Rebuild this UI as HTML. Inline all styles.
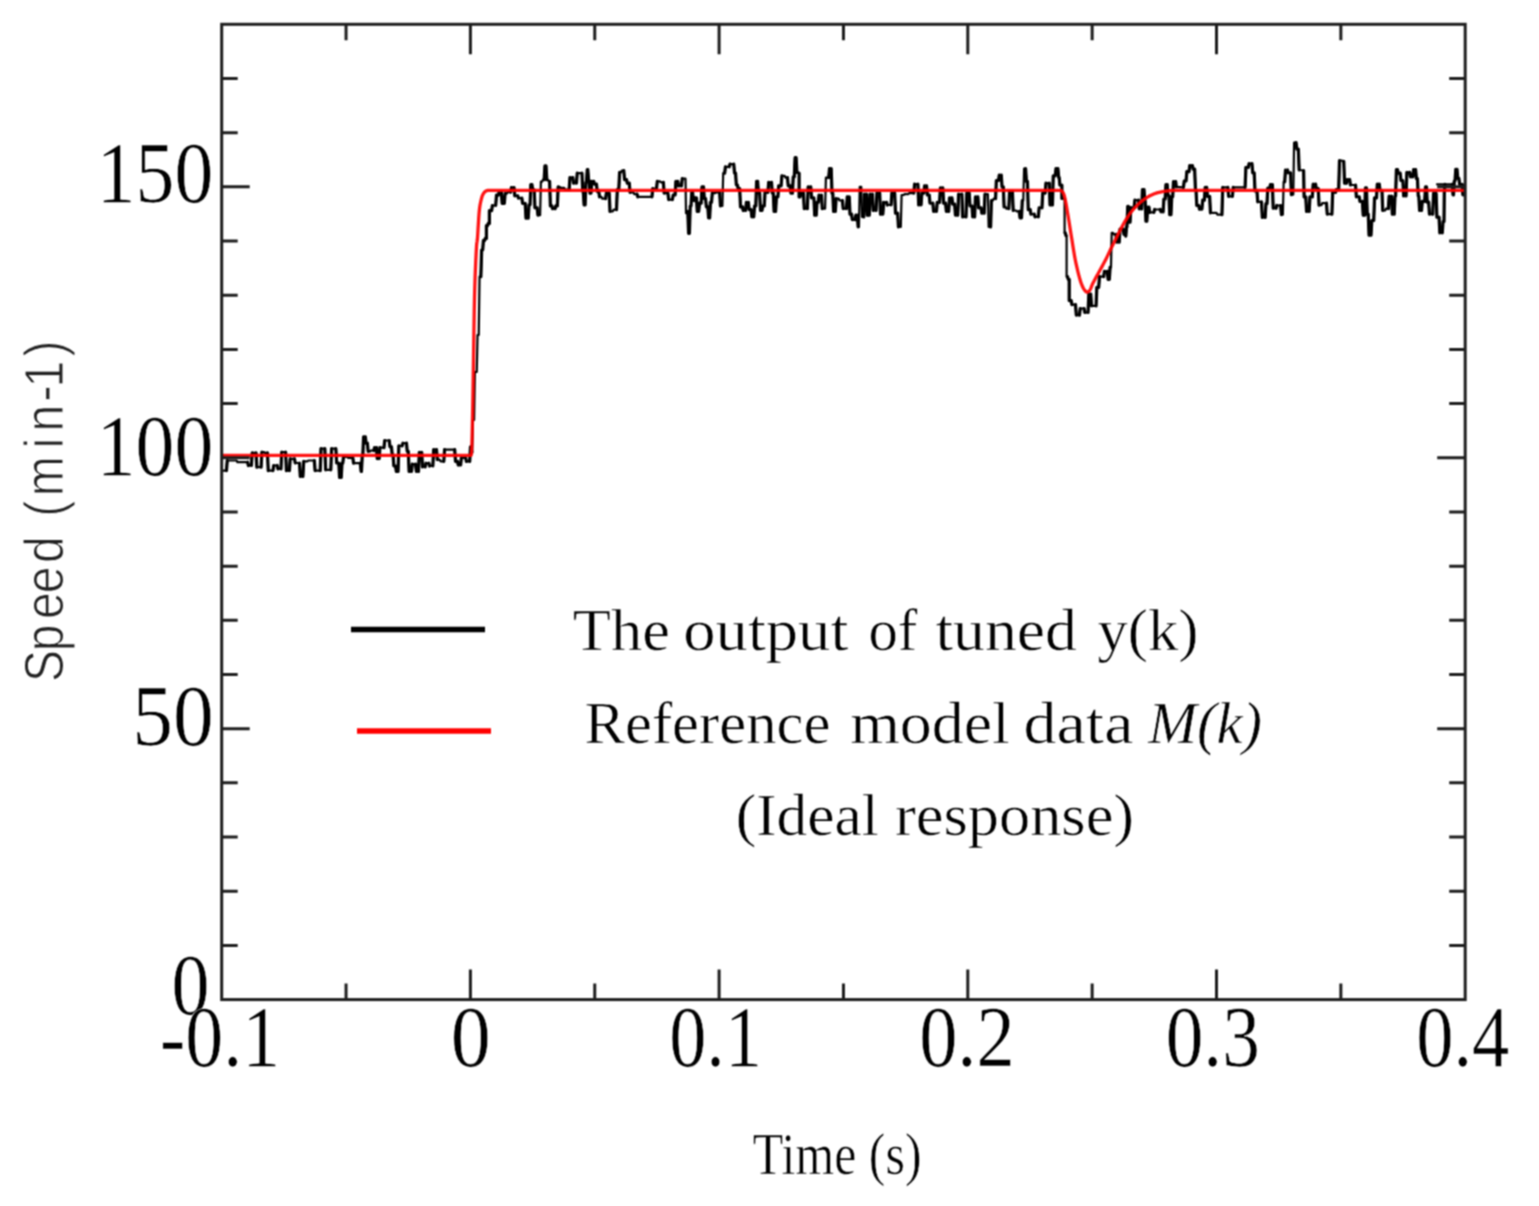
<!DOCTYPE html>
<html><head><meta charset="utf-8"><title>Speed response</title>
<style>html,body{margin:0;padding:0;background:#fff;overflow:hidden;}svg{display:block;}</style></head>
<body>
<svg width="1539" height="1206" viewBox="0 0 1539 1206">
<defs><filter id="b" x="0" y="0" width="1" height="1" color-interpolation-filters="sRGB"><feConvolveMatrix order="3" kernelMatrix="1 2 1 2 4 2 1 2 1" divisor="16" edgeMode="duplicate"/></filter></defs><g filter="url(#b)">
<rect width="1539" height="1206" fill="#fff"/>
<g fill="none" stroke="#000" stroke-width="2.2" stroke-linejoin="round" stroke-linecap="round">
<polyline points="222.2,470.6 226.4,470.6 226.45,470.6 227.25,460.5 227.3,460.5 234.9,460.5 236.6,460.5 237.4,462.2 239.1,462.2 245.9,462.2 247.6,462.2 248.4,465.5 250.1,465.5 251.4,465.5 252.2,452.9 253.5,452.9 256.05,452.9 256.85,467.2 259.4,467.2 261.1,467.2 261.9,452 263.6,452 264.05,452 264.85,452.9 265.3,452.9 267.45,452.9 268.25,470.6 270.4,470.6 272.95,470.6 273.75,465.5 276.3,465.5 277.15,465.5 277.95,468.9 278.8,468.9 280.95,468.9 281.75,452 283.9,452 285.6,452 286.4,470.6 288.1,470.6 289.4,470.6 290.2,458.8 291.5,458.8 294.45,458.8 295.25,463 298.2,463 299.5,463 300.3,476.5 301.6,476.5 302.9,476.5 303.7,461.3 305,461.3 307.55,461.3 308.35,460.5 310.9,460.5 314.3,460.5 315.1,470.6 318.5,470.6 320.2,470.6 321,448.6 322.7,448.6 324.85,448.6 325.65,469.8 327.8,469.8 330.8,469.8 331.6,448.6 334.6,448.6 335.85,448.6 336.65,463 337.9,463 338.8,463 339.6,477.4 340.5,477.4 341.2,477.4 342,463.2 342.7,463.2 342.75,463.2 343.55,456.8 343.6,456.8 347.3,456.8 348.1,457.8 351.8,457.8 352.8,457.8 353.6,463.2 354.6,463.2 360,463.2 360.3,463.2 361.1,471.4 361.4,471.4 361.45,471.4 362.25,455.9 362.3,455.9 362.8,455.9 363.6,436.8 364.1,436.8 365.3,436.8 366.1,443.2 367.3,443.2 367.35,443.2 368.15,451.4 368.2,451.4 370.1,451.4 370.9,450.5 372.8,450.5 373.75,450.5 374.55,447.7 375.5,447.7 376.45,447.7 377.25,458.7 378.2,458.7 379.15,458.7 379.95,447.7 380.9,447.7 383.95,447.7 384.75,440.5 387.8,440.5 389.2,440.5 390,446.8 391.4,446.8 391.45,446.8 392.25,455 392.3,455 393.05,455 393.85,466 394.6,466 395.55,466 396.35,471.4 397.3,471.4 398.05,471.4 398.85,445.9 399.6,445.9 402.15,445.9 402.95,443.2 405.5,443.2 406.45,443.2 407.25,451.4 408.2,451.4 408.3,451.4 409.1,471.4 409.2,471.4 411.5,471.4 412.3,464.1 414.6,464.1 415.55,464.1 416.35,471.4 417.3,471.4 418.5,471.4 419.3,452.3 420.5,452.3 421.7,452.3 422.5,466.9 423.7,466.9 425.15,466.9 425.95,463.2 427.4,463.2 428.8,463.2 429.6,466 431,466 432.85,466 433.65,449.6 435.5,449.6 436.5,449.6 437.3,459.6 438.3,459.6 439.7,459.6 440.5,461.4 441.9,461.4 443.8,461.4 444.6,449.6 446.5,449.6 453.7,449.6 454.7,449.6 455.5,461.4 456.5,461.4 457.45,461.4 458.25,465 459.2,465 460.6,465 461.4,457.8 462.8,457.8 465.6,457.8 466.4,461.4 469.2,461.4 469.7,461.4 470.5,446.8 471,446.8 471.05,446.8 471.85,452.3 471.9,452.3 472.15,452.3 472.95,420 473.2,420 474.1,420 474.9,372 475.8,372 476.75,372 477.55,335 478.5,335 478.75,335 479.55,276.7 479.8,276.7 480.85,276.7 481.65,250 482.7,250 482.7,250 483.4,240.6 483.4,240.6 484.5,240.6 485.3,238.4 486.4,238.4 486.4,225.7 487.5,225.7 488.3,223.4 489.4,223.4 489.4,210.7 491.6,210.7 492.4,205.5 494.6,205.5 495.7,205.5 496.5,195.1 497.6,195.1 498.35,195.1 499.15,192.1 499.9,192.1 501.35,192.1 502.15,203.3 503.6,203.3 504.3,203.3 505.1,193.6 505.8,193.6 506.9,193.6 507.7,192.1 508.8,192.1 510.65,192.1 511.45,187.6 513.3,187.6 514,187.6 514.8,195.8 515.5,195.8 517.7,195.8 518.5,198.1 520.7,198.1 521.8,198.1 522.6,203.3 523.7,203.3 525.2,203.3 526,218.2 527.5,218.2 528.2,218.2 529,204.8 529.7,204.8 530.05,204.8 530.85,184.6 531.2,184.6 531.9,184.6 532.7,189.9 533.4,189.9 534.15,189.9 534.95,207.8 535.7,207.8 537.15,207.8 537.95,215.2 539.4,215.2 540.1,215.2 540.9,181.6 541.6,181.6 542.2,181.6 543,179.6 543.6,179.6 544.15,179.6 544.95,165.9 545.5,165.9 546,165.9 546.8,179.6 547.3,179.6 547.8,179.6 548.6,181.4 549.1,181.4 549.6,181.4 550.4,206 550.9,206 551.85,206 552.65,208.7 553.6,208.7 555.05,208.7 555.85,206 557.3,206 557.35,206 558.15,186.8 558.2,186.8 559.6,186.8 560.4,187.8 561.8,187.8 564.15,187.8 564.95,189.6 567.3,189.6 569.15,189.6 569.95,177.7 571.8,177.7 572.8,177.7 573.6,183.2 574.6,183.2 576.45,183.2 577.25,173.2 579.1,173.2 581.9,173.2 581.95,173.2 582.75,191.4 582.8,191.4 583.3,191.4 584.1,205 584.6,205 585.1,205 585.9,182.3 586.4,182.3 586.45,182.3 587.25,169.6 587.3,169.6 587.8,169.6 588.6,180.5 589.1,180.5 589.15,180.5 589.95,193.2 590,193.2 591,193.2 591.8,181.4 592.8,181.4 593.75,181.4 594.55,184.1 595.5,184.1 596.45,184.1 597.25,191.4 598.2,191.4 598.75,191.4 599.55,196.9 600.1,196.9 601.5,196.9 602.3,198.7 603.7,198.7 605.55,198.7 606.35,193.2 608.2,193.2 609.2,193.2 610,211.4 611,211.4 612.85,211.4 613.65,209.6 615.5,209.6 616.5,209.6 617.3,189.6 618.3,189.6 618.8,189.6 619.6,172.3 620.1,172.3 621.05,172.3 621.85,170.5 622.8,170.5 623.75,170.5 624.55,179.6 625.5,179.6 626.5,179.6 627.3,183.2 628.3,183.2 629.25,183.2 630.05,192.3 631,192.3 633.35,192.3 634.15,194.1 636.5,194.1 637,194.1 637.8,196.9 638.3,196.9 650.1,196.9 651.95,196.9 652.75,188.7 654.6,188.7 656.5,188.7 657.3,181.4 659.2,181.4 660.15,181.4 660.95,182.3 661.9,182.3 663.35,182.3 664.15,193.2 665.6,193.2 667.9,193.2 668.7,199.6 671,199.6 672.4,199.6 673.2,195 674.6,195 675.1,195 675.9,181.4 676.4,181.4 677.8,181.4 678.6,186 680,186 681.45,186 682.25,178.7 683.7,178.7 685.5,178.7 686,213.2 686.25,213.2 687.05,211.4 687.3,211.4 687.8,211.4 688.6,233.3 689.1,233.3 689.4,233.3 690.2,206 690.5,206 691,206 691.8,192.3 692.3,192.3 692.6,192.3 693.4,200.5 693.7,200.5 694.2,200.5 695,197.8 695.5,197.8 696.45,197.8 697.25,211.4 698.2,211.4 698.7,211.4 699.5,203.2 700,203.2 701.2,203.2 702,186.8 703.2,186.8 703.5,186.8 704.3,198.7 704.6,198.7 705.55,198.7 706.35,206.9 707.3,206.9 707.8,206.9 708.6,217.8 709.1,217.8 709.65,217.8 710.45,202.3 711,202.3 711.5,202.3 712.3,193.2 712.8,193.2 715.1,193.2 715.9,192.3 718.2,192.3 719.65,192.3 720.45,206 721.9,206 722.4,206 723.2,173.2 723.7,173.2 724.65,173.2 725.45,166.8 726.4,166.8 729.2,166.8 730,164.1 732.8,164.1 733.75,164.1 734.55,173.2 735.5,173.2 735.55,173.2 736.35,185 736.4,185 737.4,185 738.2,188.7 739.2,188.7 739.7,188.7 740.5,206.9 741,206.9 742.4,206.9 743.2,210.5 744.6,210.5 745.6,210.5 746.4,202.3 747.4,202.3 748.35,202.3 749.15,209.6 750.1,209.6 751.05,209.6 751.85,216.9 752.8,216.9 753.75,216.9 754.55,206 755.5,206 755.8,206 756.6,181.4 756.9,181.4 757.65,181.4 758.45,193.2 759.2,193.2 759.7,193.2 760.5,210.5 761,210.5 761.95,210.5 762.75,206 763.7,206 764.25,206 765.05,192.3 765.6,192.3 767.9,192.3 768.7,182.3 771,182.3 771.5,182.3 772.3,193.2 772.8,193.2 773.3,193.2 774.1,211.4 774.6,211.4 775.6,211.4 776.4,196.9 777.4,196.9 777.9,196.9 778.7,185.9 779.2,185.9 781.1,185.9 781.9,175.9 783.8,175.9 784.75,175.9 785.55,177.7 786.5,177.7 787.45,177.7 788.25,185.9 789.2,185.9 790.15,185.9 790.95,193.2 791.9,193.2 792.45,193.2 793.25,176.8 793.8,176.8 794.3,176.8 795.1,157.7 795.6,157.7 796.1,157.7 796.9,172.3 797.4,172.3 797.85,172.3 798.65,173.2 799.1,173.2 799.1,196.9 800.05,196.9 800.85,193.2 801.8,193.2 803.45,193.2 804.25,208.7 805.9,208.7 807.35,208.7 808.15,186.8 809.6,186.8 810.75,186.8 811.55,197.8 812.7,197.8 813.9,197.8 814.7,215.1 815.9,215.1 816.2,215.1 817,202.3 817.3,202.3 818.25,202.3 819.05,195 820,195 821.45,195 822.25,208.7 823.7,208.7 825.1,208.7 825.9,177.7 827.3,177.7 828.7,177.7 829.5,168.6 830.9,168.6 831.2,168.6 832,193.2 832.3,193.2 832.8,193.2 833.6,211.4 834.1,211.4 835.3,211.4 836.1,198.7 837.3,198.7 838.75,198.7 839.55,200.5 841,200.5 842.4,200.5 843.2,208.7 844.6,208.7 846.45,208.7 847.25,196.9 849.1,196.9 849.2,196.9 850,214.1 850.1,214.1 851.5,214.1 852.3,219.6 853.7,219.6 855.1,219.6 855.9,215.1 857.3,215.1 857.35,215.1 858.15,226.9 858.2,226.9 858.95,226.9 859.75,186.8 860.5,186.8 861.25,186.8 862.05,216.9 862.8,216.9 863.75,216.9 864.55,194.1 865.5,194.1 866.5,194.1 867.3,215.1 868.3,215.1 869.25,215.1 870.05,194.1 871,194.1 872.4,194.1 873.2,210.5 874.6,210.5 876.05,210.5 876.85,193.2 878.3,193.2 879.7,193.2 880.5,214.1 881.9,214.1 882.85,214.1 883.65,202.3 884.6,202.3 886.5,202.3 887.3,205 889.2,205 891.05,205 891.85,193.2 893.7,193.2 894.7,193.2 895.5,213.2 896.5,213.2 897.65,213.2 898.45,226.9 899.6,226.9 900.8,226.9 901.6,195 902.8,195 903.8,195 904.6,194.1 905.6,194.1 908.35,194.1 909.15,193.2 911.9,193.2 913.8,193.2 914.6,184.1 916.5,184.1 917.9,184.1 918.7,205 920.1,205 921.05,205 921.85,193.2 922.8,193.2 923.8,193.2 924.6,185.9 925.6,185.9 926.55,185.9 927.35,195 928.3,195 929.2,195 930,203.2 930.9,203.2 932.8,203.2 933.6,211.4 935.5,211.4 936.45,211.4 937.25,202.3 938.2,202.3 939.6,202.3 940.4,187.8 941.8,187.8 942.8,187.8 943.6,203.2 944.6,203.2 945.55,203.2 946.35,211.4 947.3,211.4 948.7,211.4 949.5,197.8 950.9,197.8 951.9,197.8 952.7,204.1 953.7,204.1 954.65,204.1 955.45,215.1 956.4,215.1 957.8,215.1 958.6,194.1 960,194.1 961.9,194.1 962.7,216.9 964.6,216.9 966,216.9 966.8,193.2 968.2,193.2 969.2,193.2 970,206 971,206 971.95,206 972.75,216.9 973.7,216.9 974.65,216.9 975.45,196.9 976.4,196.9 977.85,196.9 978.65,207.8 980.1,207.8 981.05,207.8 981.85,213.2 982.8,213.2 984.2,213.2 985,194.1 986.4,194.1 987.85,194.1 988.65,226.9 990.1,226.9 990.6,226.9 991.4,200.5 991.9,200.5 992.85,200.5 993.65,198.7 994.6,198.7 995.55,198.7 996.35,180.5 997.3,180.5 998.5,180.5 999.3,175 1000.5,175 1001.25,175 1002.05,186.8 1002.8,186.8 1003.3,186.8 1004.1,206.9 1004.6,206.9 1005.6,206.9 1006.4,208.7 1007.4,208.7 1008.8,208.7 1009.6,191.4 1011,191.4 1012.4,191.4 1013.2,210.5 1014.6,210.5 1016.05,210.5 1016.85,211.4 1018.3,211.4 1019.25,211.4 1020.05,217.8 1021,217.8 1021.5,217.8 1022.3,200.5 1022.8,200.5 1023.3,200.5 1024.1,168.6 1024.6,168.6 1025.6,168.6 1026.4,181.4 1027.4,181.4 1027.45,181.4 1028.25,209.6 1028.3,209.6 1030.15,209.6 1030.95,214.1 1032.8,214.1 1034.25,214.1 1035.05,216.9 1036.5,216.9 1038.35,216.9 1039.15,207.8 1041,207.8 1041.95,207.8 1042.75,193.2 1043.7,193.2 1045.15,193.2 1045.95,183.2 1047.4,183.2 1049.25,183.2 1050.05,205 1051.9,205 1052.45,205 1053.25,175.9 1053.8,175.9 1055.2,175.9 1056,168.6 1057.4,168.6 1057.9,168.6 1058.7,177.7 1059.2,177.7 1059.2,177.7 1059.9,185.2 1059.9,185.2 1061.9,185.2 1061.9,198.5 1064.6,198.5 1064.6,232.9 1065.2,232.9 1066,235.6 1066.6,235.6 1066.6,276.7 1067.5,276.7 1068.3,279.4 1069.2,279.4 1069.2,300.6 1071.15,300.6 1071.95,304.6 1073.9,304.6 1075.5,304.6 1076.3,315.2 1077.9,315.2 1079.45,315.2 1080.25,308.5 1081.8,308.5 1084.05,308.5 1084.85,312.5 1087.1,312.5 1088.05,312.5 1088.85,294 1089.8,294 1090.7,294 1091.5,305.9 1092.4,305.9 1095.8,305.9 1096.05,305.9 1096.85,287.3 1097.1,287.3 1098.7,287.3 1099.5,276.7 1101.1,276.7 1103.65,276.7 1104.45,271.4 1107,271.4 1107.3,271.4 1108.1,279.4 1108.4,279.4 1109.3,279.4 1110.1,267.4 1111,267.4 1111,267.4 1111.7,232.9 1111.7,232.9 1112.95,232.9 1113.75,234.3 1115,234.3 1115.9,234.3 1116.7,242.2 1117.6,242.2 1119.2,242.2 1120,229 1121.6,229 1123.2,229 1124,234.3 1125.6,234.3 1125.8,236.2 1125.8,236.2 1126.5,226.9 1126.5,226.9 1126.95,226.9 1127.75,206.4 1128.2,206.4 1128.35,206.4 1129.15,222.2 1129.3,222.2 1130.05,222.2 1130.85,207.7 1131.6,207.7 1134.1,207.7 1134.9,200.2 1137.4,200.2 1138.45,200.2 1139.25,208.9 1140.3,208.9 1141.65,208.9 1142.45,189.7 1143.8,189.7 1144,189.7 1144.8,200.8 1145,200.8 1145.15,200.8 1145.95,221.1 1146.1,221.1 1146.85,221.1 1147.65,207.1 1148.4,207.1 1148.9,207.1 1149.7,212.4 1150.2,212.4 1153.85,212.4 1154.65,209.5 1158.3,209.5 1160.2,209.5 1161,211.8 1162.9,211.8 1163.1,211.8 1163.9,199 1164.1,199 1165.15,199 1165.95,184.5 1167,184.5 1167.2,184.5 1168,195.5 1168.2,195.5 1168.95,195.5 1169.75,214.7 1170.5,214.7 1170.95,214.7 1171.75,196.7 1172.2,196.7 1172.7,196.7 1173.5,181.6 1174,181.6 1175.7,181.6 1176.3,186.8 1182.7,187.4 1183.45,187.4 1184.25,181 1185,181 1186.05,181 1186.85,171.7 1187.9,171.7 1189,171.7 1189.8,165.5 1190.9,165.5 1192.35,165.5 1193.15,169.1 1194.6,169.1 1194.65,169.1 1195.45,190 1195.5,190 1196,190 1196.8,205.5 1197.3,205.5 1198.7,205.5 1199.5,209.2 1200.9,209.2 1201.9,209.2 1202.7,200.1 1203.7,200.1 1204.4,200.1 1205.2,187.3 1205.9,187.3 1206.65,187.3 1207.45,196.4 1208.2,196.4 1209.65,196.4 1210.45,212.8 1211.9,212.8 1216.5,212.8 1217.3,214.6 1221.9,214.6 1221.95,214.6 1222.75,187.3 1222.8,187.3 1226.4,187.3 1227.85,187.3 1228.65,196.4 1230.1,196.4 1232.4,196.4 1233.2,187.3 1235.5,187.3 1244.6,187.3 1245.1,187.3 1245.9,167.3 1246.4,167.3 1248.3,167.3 1249.1,163.7 1251,163.7 1251.95,163.7 1252.75,172.8 1253.7,172.8 1254.2,172.8 1255,191 1255.5,191 1256.95,191 1257.75,201.9 1259.2,201.9 1261.5,201.9 1262.3,217.3 1264.6,217.3 1265.15,217.3 1265.95,203.7 1266.5,203.7 1267,203.7 1267.8,188.2 1268.3,188.2 1269.7,188.2 1270.5,184.6 1271.9,184.6 1272.4,184.6 1273.2,208.2 1273.7,208.2 1276.05,208.2 1276.85,205.5 1279.2,205.5 1280.6,205.5 1281.4,214.6 1282.8,214.6 1282.85,214.6 1283.65,181.9 1283.7,181.9 1284.7,181.9 1285.5,170 1286.5,170 1287.45,170 1288.25,172.8 1289.2,172.8 1290.6,172.8 1291.4,194.6 1292.8,194.6 1293.3,194.6 1294.1,142.7 1294.6,142.7 1296.05,142.7 1296.85,149.1 1298.3,149.1 1298.35,149.1 1299.15,170 1299.2,170 1303.6,170.5 1304.1,196.9 1305.75,196.9 1306.55,211.4 1308.2,211.4 1309.15,211.4 1309.95,196.9 1310.9,196.9 1312.35,196.9 1313.15,184.1 1314.6,184.1 1315.55,184.1 1316.35,188.7 1317.3,188.7 1318.25,188.7 1319.05,205.1 1320,205.1 1321.45,205.1 1322.25,203.2 1323.7,203.2 1326.45,203.2 1327.25,214.2 1330,214.2 1331.9,214.2 1332.7,192.3 1334.6,192.3 1335.55,192.3 1336.35,189.6 1337.3,189.6 1338.7,189.6 1339.5,160.5 1340.9,160.5 1341.9,160.5 1342.7,161.4 1343.7,161.4 1343.75,161.4 1344.55,183.2 1344.6,183.2 1346.45,183.2 1347.25,179.6 1349.1,179.6 1349.65,179.6 1350.45,185 1351,185 1354.6,185 1355.55,185 1356.35,196.9 1357.3,196.9 1359.2,196.9 1360,201.4 1361.9,201.4 1362.4,201.4 1363.2,215.1 1363.7,215.1 1364.65,215.1 1365.45,187.8 1366.4,187.8 1366.45,187.8 1367.25,214.2 1367.3,214.2 1368.25,214.2 1369.05,235.1 1370,235.1 1371,235.1 1371.8,220.5 1372.8,220.5 1373.75,220.5 1374.55,197.8 1375.5,197.8 1376.5,197.8 1377.3,184.1 1378.3,184.1 1379.25,184.1 1380.05,190.5 1381,190.5 1381.95,190.5 1382.75,210.5 1383.7,210.5 1385.15,210.5 1385.95,208.7 1387.4,208.7 1388.35,208.7 1389.15,196 1390.1,196 1391.5,196 1392.3,214.2 1393.7,214.2 1394.2,214.2 1395,196 1395.5,196 1395.6,196 1396.4,169.6 1396.5,169.6 1397.45,169.6 1398.25,173.2 1399.2,173.2 1400.15,173.2 1400.95,180.5 1401.9,180.5 1402.85,180.5 1403.65,196 1404.6,196 1406.05,196 1406.85,172.3 1408.3,172.3 1409.7,172.3 1410.5,176.8 1411.9,176.8 1412.85,176.8 1413.65,169.6 1414.6,169.6 1415.6,169.6 1416.4,178.7 1417.4,178.7 1417.45,178.7 1418.25,196 1418.3,196 1418.8,196 1419.6,210.5 1420.1,210.5 1421.5,210.5 1422.3,201.4 1423.7,201.4 1424.7,201.4 1425.5,186.9 1426.5,186.9 1426.5,186.9 1427.2,202.2 1427.2,202.2 1428.65,202.2 1429.45,214.2 1430.9,214.2 1432.75,214.2 1433.55,193.3 1435.4,193.3 1436.1,193.3 1436.9,217.2 1437.6,217.2 1439.05,217.2 1439.85,232.8 1441.3,232.8 1442.25,232.8 1443.05,221.6 1444,221.6 1444.3,192.5 1444.3,192.5 1445,184.3 1445,184.3 1452,184.3 1452.25,184.3 1453.05,194.8 1453.3,194.8 1453.5,194.8 1454.3,181 1454.5,181 1455,181 1455.8,169.4 1456.3,169.4 1457,169.4 1457.8,178.4 1458.5,178.4 1458.85,178.4 1459.65,184.3 1460,184.3 1462,184.3 1462.1,184.3 1462.9,195 1463,195 1463.1,195 1463.9,186 1464,186"/><polyline points="1437,184.3 1445,184.3"/><path d="M226.45 470.6L227.25 460.5M247.6 462.2L248.4 465.5M251.4 465.5L252.2 452.9M256.05 452.9L256.85 467.2M261.1 467.2L261.9 452M267.45 452.9L268.25 470.6M272.95 470.6L273.75 465.5M277.15 465.5L277.95 468.9M280.95 468.9L281.75 452M285.6 452L286.4 470.6M289.4 470.6L290.2 458.8M294.45 458.8L295.25 463M299.5 463L300.3 476.5M302.9 476.5L303.7 461.3M314.3 460.5L315.1 470.6M320.2 470.6L321 448.6M324.85 448.6L325.65 469.8M330.8 469.8L331.6 448.6M335.85 448.6L336.65 463M338.8 463L339.6 477.4M341.2 477.4L342 463.2M342.75 463.2L343.55 456.8M352.8 457.8L353.6 463.2M360.3 463.2L361.1 471.4M361.45 471.4L362.25 455.9M362.8 455.9L363.6 436.8M365.3 436.8L366.1 443.2M367.35 443.2L368.15 451.4M373.75 450.5L374.55 447.7M376.45 447.7L377.25 458.7M379.15 458.7L379.95 447.7M383.95 447.7L384.75 440.5M389.2 440.5L390 446.8M391.45 446.8L392.25 455M393.05 455L393.85 466M395.55 466L396.35 471.4M398.05 471.4L398.85 445.9M402.15 445.9L402.95 443.2M406.45 443.2L407.25 451.4M408.3 451.4L409.1 471.4M411.5 471.4L412.3 464.1M415.55 464.1L416.35 471.4M418.5 471.4L419.3 452.3M421.7 452.3L422.5 466.9M425.15 466.9L425.95 463.2M428.8 463.2L429.6 466M432.85 466L433.65 449.6M436.5 449.6L437.3 459.6M443.8 461.4L444.6 449.6M454.7 449.6L455.5 461.4M457.45 461.4L458.25 465M460.6 465L461.4 457.8M465.6 457.8L466.4 461.4M469.7 461.4L470.5 446.8M471.05 446.8L471.85 452.3M480.85 276.7L481.65 250M482.7 250L483.4 240.6M484.5 240.6L485.3 238.4M486.4 238.4L486.4 225.7M487.5 225.7L488.3 223.4M489.4 223.4L489.4 210.7M491.6 210.7L492.4 205.5M495.7 205.5L496.5 195.1M498.35 195.1L499.15 192.1M501.35 192.1L502.15 203.3M504.3 203.3L505.1 193.6M510.65 192.1L511.45 187.6M514 187.6L514.8 195.8M517.7 195.8L518.5 198.1M521.8 198.1L522.6 203.3M525.2 203.3L526 218.2M528.2 218.2L529 204.8M530.05 204.8L530.85 184.6M531.9 184.6L532.7 189.9M534.15 189.9L534.95 207.8M537.15 207.8L537.95 215.2M544.15 179.6L544.95 165.9M546 165.9L546.8 179.6M549.6 181.4L550.4 206M551.85 206L552.65 208.7M555.05 208.7L555.85 206M557.35 206L558.15 186.8M569.15 189.6L569.95 177.7M572.8 177.7L573.6 183.2M576.45 183.2L577.25 173.2M581.95 173.2L582.75 191.4M583.3 191.4L584.1 205M585.1 205L585.9 182.3M586.45 182.3L587.25 169.6M587.8 169.6L588.6 180.5M589.15 180.5L589.95 193.2M591 193.2L591.8 181.4M593.75 181.4L594.55 184.1M596.45 184.1L597.25 191.4M598.75 191.4L599.55 196.9M605.55 198.7L606.35 193.2M609.2 193.2L610 211.4M616.5 209.6L617.3 189.6M618.8 189.6L619.6 172.3M623.75 170.5L624.55 179.6M626.5 179.6L627.3 183.2M629.25 183.2L630.05 192.3M637 194.1L637.8 196.9M651.95 196.9L652.75 188.7M656.5 188.7L657.3 181.4M663.35 182.3L664.15 193.2M667.9 193.2L668.7 199.6M672.4 199.6L673.2 195M675.1 195L675.9 181.4M677.8 181.4L678.6 186M681.45 186L682.25 178.7M687.8 211.4L688.6 233.3M689.4 233.3L690.2 206M691 206L691.8 192.3M692.6 192.3L693.4 200.5M694.2 200.5L695 197.8M696.45 197.8L697.25 211.4M698.7 211.4L699.5 203.2M701.2 203.2L702 186.8M703.5 186.8L704.3 198.7M705.55 198.7L706.35 206.9M707.8 206.9L708.6 217.8M709.65 217.8L710.45 202.3M711.5 202.3L712.3 193.2M719.65 192.3L720.45 206M724.65 173.2L725.45 166.8M729.2 166.8L730 164.1M733.75 164.1L734.55 173.2M735.55 173.2L736.35 185M737.4 185L738.2 188.7M739.7 188.7L740.5 206.9M742.4 206.9L743.2 210.5M745.6 210.5L746.4 202.3M748.35 202.3L749.15 209.6M751.05 209.6L751.85 216.9M753.75 216.9L754.55 206M755.8 206L756.6 181.4M757.65 181.4L758.45 193.2M759.7 193.2L760.5 210.5M761.95 210.5L762.75 206M764.25 206L765.05 192.3M767.9 192.3L768.7 182.3M771.5 182.3L772.3 193.2M773.3 193.2L774.1 211.4M775.6 211.4L776.4 196.9M777.9 196.9L778.7 185.9M781.1 185.9L781.9 175.9M787.45 177.7L788.25 185.9M790.15 185.9L790.95 193.2M792.45 193.2L793.25 176.8M794.3 176.8L795.1 157.7M796.1 157.7L796.9 172.3M799.1 173.2L799.1 196.9M800.05 196.9L800.85 193.2M803.45 193.2L804.25 208.7M807.35 208.7L808.15 186.8M810.75 186.8L811.55 197.8M813.9 197.8L814.7 215.1M816.2 215.1L817 202.3M818.25 202.3L819.05 195M821.45 195L822.25 208.7M828.7 177.7L829.5 168.6M831.2 168.6L832 193.2M832.8 193.2L833.6 211.4M835.3 211.4L836.1 198.7M842.4 200.5L843.2 208.7M846.45 208.7L847.25 196.9M849.2 196.9L850 214.1M851.5 214.1L852.3 219.6M855.1 219.6L855.9 215.1M857.35 215.1L858.15 226.9M863.75 216.9L864.55 194.1M866.5 194.1L867.3 215.1M869.25 215.1L870.05 194.1M872.4 194.1L873.2 210.5M876.05 210.5L876.85 193.2M879.7 193.2L880.5 214.1M882.85 214.1L883.65 202.3M886.5 202.3L887.3 205M891.05 205L891.85 193.2M894.7 193.2L895.5 213.2M897.65 213.2L898.45 226.9M913.8 193.2L914.6 184.1M917.9 184.1L918.7 205M921.05 205L921.85 193.2M923.8 193.2L924.6 185.9M926.55 185.9L927.35 195M929.2 195L930 203.2M932.8 203.2L933.6 211.4M936.45 211.4L937.25 202.3M939.6 202.3L940.4 187.8M942.8 187.8L943.6 203.2M945.55 203.2L946.35 211.4M948.7 211.4L949.5 197.8M951.9 197.8L952.7 204.1M954.65 204.1L955.45 215.1M957.8 215.1L958.6 194.1M961.9 194.1L962.7 216.9M966 216.9L966.8 193.2M969.2 193.2L970 206M971.95 206L972.75 216.9M974.65 216.9L975.45 196.9M977.85 196.9L978.65 207.8M981.05 207.8L981.85 213.2M984.2 213.2L985 194.1M990.6 226.9L991.4 200.5M995.55 198.7L996.35 180.5M998.5 180.5L999.3 175M1001.25 175L1002.05 186.8M1003.3 186.8L1004.1 206.9M1008.8 208.7L1009.6 191.4M1012.4 191.4L1013.2 210.5M1019.25 211.4L1020.05 217.8M1021.5 217.8L1022.3 200.5M1025.6 168.6L1026.4 181.4M1027.45 181.4L1028.25 209.6M1030.15 209.6L1030.95 214.1M1034.25 214.1L1035.05 216.9M1038.35 216.9L1039.15 207.8M1041.95 207.8L1042.75 193.2M1045.15 193.2L1045.95 183.2M1049.25 183.2L1050.05 205M1052.45 205L1053.25 175.9M1055.2 175.9L1056 168.6M1057.9 168.6L1058.7 177.7M1059.2 177.7L1059.9 185.2M1061.9 185.2L1061.9 198.5M1065.2 232.9L1066 235.6M1067.5 276.7L1068.3 279.4M1069.2 279.4L1069.2 300.6M1071.15 300.6L1071.95 304.6M1075.5 304.6L1076.3 315.2M1079.45 315.2L1080.25 308.5M1084.05 308.5L1084.85 312.5M1088.05 312.5L1088.85 294M1090.7 294L1091.5 305.9M1096.05 305.9L1096.85 287.3M1098.7 287.3L1099.5 276.7M1103.65 276.7L1104.45 271.4M1107.3 271.4L1108.1 279.4M1109.3 279.4L1110.1 267.4M1115.9 234.3L1116.7 242.2M1119.2 242.2L1120 229M1123.2 229L1124 234.3M1125.8 236.2L1126.5 226.9M1126.95 226.9L1127.75 206.4M1128.35 206.4L1129.15 222.2M1130.05 222.2L1130.85 207.7M1134.1 207.7L1134.9 200.2M1138.45 200.2L1139.25 208.9M1141.65 208.9L1142.45 189.7M1144 189.7L1144.8 200.8M1145.15 200.8L1145.95 221.1M1146.85 221.1L1147.65 207.1M1148.9 207.1L1149.7 212.4M1153.85 212.4L1154.65 209.5M1160.2 209.5L1161 211.8M1163.1 211.8L1163.9 199M1165.15 199L1165.95 184.5M1167.2 184.5L1168 195.5M1168.95 195.5L1169.75 214.7M1170.95 214.7L1171.75 196.7M1172.7 196.7L1173.5 181.6M1175.7 181.6L1176.3 186.8M1183.45 187.4L1184.25 181M1186.05 181L1186.85 171.7M1189 171.7L1189.8 165.5M1192.35 165.5L1193.15 169.1M1194.65 169.1L1195.45 190M1196 190L1196.8 205.5M1198.7 205.5L1199.5 209.2M1201.9 209.2L1202.7 200.1M1204.4 200.1L1205.2 187.3M1206.65 187.3L1207.45 196.4M1209.65 196.4L1210.45 212.8M1221.95 214.6L1222.75 187.3M1227.85 187.3L1228.65 196.4M1232.4 196.4L1233.2 187.3M1245.1 187.3L1245.9 167.3M1248.3 167.3L1249.1 163.7M1251.95 163.7L1252.75 172.8M1254.2 172.8L1255 191M1256.95 191L1257.75 201.9M1261.5 201.9L1262.3 217.3M1265.15 217.3L1265.95 203.7M1267 203.7L1267.8 188.2M1269.7 188.2L1270.5 184.6M1272.4 184.6L1273.2 208.2M1276.05 208.2L1276.85 205.5M1280.6 205.5L1281.4 214.6M1284.7 181.9L1285.5 170M1287.45 170L1288.25 172.8M1290.6 172.8L1291.4 194.6M1296.05 142.7L1296.85 149.1M1298.35 149.1L1299.15 170M1303.6 170.5L1304.1 196.9M1305.75 196.9L1306.55 211.4M1309.15 211.4L1309.95 196.9M1312.35 196.9L1313.15 184.1M1315.55 184.1L1316.35 188.7M1318.25 188.7L1319.05 205.1M1326.45 203.2L1327.25 214.2M1331.9 214.2L1332.7 192.3M1335.55 192.3L1336.35 189.6M1338.7 189.6L1339.5 160.5M1343.75 161.4L1344.55 183.2M1346.45 183.2L1347.25 179.6M1349.65 179.6L1350.45 185M1355.55 185L1356.35 196.9M1359.2 196.9L1360 201.4M1362.4 201.4L1363.2 215.1M1364.65 215.1L1365.45 187.8M1366.45 187.8L1367.25 214.2M1368.25 214.2L1369.05 235.1M1371 235.1L1371.8 220.5M1373.75 220.5L1374.55 197.8M1376.5 197.8L1377.3 184.1M1379.25 184.1L1380.05 190.5M1381.95 190.5L1382.75 210.5M1388.35 208.7L1389.15 196M1391.5 196L1392.3 214.2M1394.2 214.2L1395 196M1395.6 196L1396.4 169.6M1397.45 169.6L1398.25 173.2M1400.15 173.2L1400.95 180.5M1402.85 180.5L1403.65 196M1406.05 196L1406.85 172.3M1409.7 172.3L1410.5 176.8M1412.85 176.8L1413.65 169.6M1415.6 169.6L1416.4 178.7M1417.45 178.7L1418.25 196M1418.8 196L1419.6 210.5M1421.5 210.5L1422.3 201.4M1424.7 201.4L1425.5 186.9M1426.5 186.9L1427.2 202.2M1428.65 202.2L1429.45 214.2M1432.75 214.2L1433.55 193.3M1436.1 193.3L1436.9 217.2M1439.05 217.2L1439.85 232.8M1442.25 232.8L1443.05 221.6M1444 221.6L1444.3 192.5M1444.3 192.5L1445 184.3M1452.25 184.3L1453.05 194.8M1453.5 194.8L1454.3 181M1455 181L1455.8 169.4M1457 169.4L1457.8 178.4M1458.85 178.4L1459.65 184.3M1462.1 184.3L1462.9 195M1463.1 195L1463.9 186" stroke-width="3.2"/>
</g>
<polyline points="222,455.4 470.6,455.4 470.73,455.14 470.91,455.26 471.13,455.16 471.36,454.27 471.59,452.01 471.8,447.8 472,441.57 472.19,433.79 472.38,424.63 472.58,414.28 472.78,402.94 473,390.8 473.23,376.89 473.47,360.86 473.71,343.84 473.97,326.94 474.23,311.29 474.5,298 474.79,287 475.1,277.36 475.42,268.98 475.73,261.7 476.03,255.42 476.3,250 476.53,246.04 476.72,243.77 476.9,242.48 477.08,241.49 477.27,240.09 477.5,237.6 477.76,233.79 478.04,229.16 478.34,224.14 478.65,219.11 478.97,214.5 479.3,210.7 479.65,207.73 480.01,205.28 480.39,203.23 480.77,201.49 481.14,199.95 481.5,198.5 481.84,197.22 482.16,196.21 482.48,195.39 482.8,194.71 483.14,194.11 483.5,193.5 483.88,192.92 484.28,192.41 484.69,191.98 485.11,191.61 485.55,191.28 486,191 486.51,190.77 487.07,190.61 487.66,190.49 488.2,190.41 488.67,190.36 489,190.3 1061,190.3 1061.28,190.6 1061.67,190.97 1062.12,191.43 1062.61,192 1063.08,192.68 1063.5,193.5 1063.85,194.38 1064.16,195.29 1064.46,196.32 1064.77,197.56 1065.11,199.09 1065.5,201 1065.95,203.36 1066.44,206.13 1066.97,209.18 1067.51,212.42 1068.06,215.73 1068.6,219 1069.14,222.29 1069.69,225.7 1070.24,229.18 1070.79,232.69 1071.35,236.18 1071.9,239.6 1072.44,242.99 1072.97,246.39 1073.51,249.76 1074.05,253.09 1074.61,256.35 1075.2,259.5 1075.83,262.61 1076.51,265.71 1077.2,268.73 1077.89,271.61 1078.57,274.29 1079.2,276.7 1079.79,278.82 1080.36,280.7 1080.91,282.38 1081.45,283.89 1081.98,285.25 1082.5,286.5 1083.03,287.62 1083.55,288.59 1084.06,289.41 1084.56,290.11 1085.04,290.7 1085.5,291.2 1085.92,291.6 1086.31,291.88 1086.69,292.05 1087.05,292.12 1087.42,292.1 1087.8,292 1088.19,291.82 1088.58,291.56 1088.97,291.21 1089.37,290.75 1089.78,290.19 1090.2,289.5 1090.61,288.7 1090.99,287.8 1091.38,286.78 1091.81,285.65 1092.34,284.39 1093,283 1093.81,281.44 1094.74,279.7 1095.77,277.84 1096.84,275.91 1097.93,273.94 1099,272 1100.06,270.06 1101.15,268.09 1102.25,266.09 1103.35,264.07 1104.44,262.04 1105.5,260 1106.53,257.94 1107.54,255.85 1108.53,253.75 1109.52,251.65 1110.51,249.56 1111.5,247.5 1112.5,245.47 1113.5,243.44 1114.5,241.44 1115.5,239.44 1116.5,237.47 1117.5,235.5 1118.49,233.54 1119.48,231.59 1120.47,229.66 1121.46,227.74 1122.47,225.85 1123.5,224 1124.55,222.16 1125.61,220.33 1126.69,218.53 1127.78,216.78 1128.88,215.09 1130,213.5 1131.14,212 1132.3,210.57 1133.47,209.22 1134.65,207.93 1135.83,206.69 1137,205.5 1138.17,204.36 1139.33,203.29 1140.5,202.27 1141.67,201.3 1142.83,200.38 1144,199.5 1145.17,198.67 1146.33,197.88 1147.5,197.14 1148.67,196.44 1149.83,195.8 1151,195.2 1152.17,194.65 1153.33,194.16 1154.5,193.72 1155.67,193.31 1156.83,192.94 1158,192.6 1159.17,192.29 1160.33,192.02 1161.5,191.78 1162.67,191.57 1163.83,191.38 1165,191.2 1166.16,191.04 1167.3,190.9 1168.44,190.77 1169.59,190.67 1170.78,190.58 1172,190.5 1173.37,190.44 1174.89,190.39 1176.44,190.36 1177.89,190.33 1179.12,190.32 1180,190.3 1464,190.3" fill="none" stroke="#ff0000" stroke-opacity="0.92" stroke-width="3.3" stroke-linejoin="round"/>
<rect x="221.7" y="24.3" width="1243.5" height="975.3" fill="none" stroke="#1e1e1e" stroke-width="3"/>
<path d="M346.05 999.6V983.6 M346.05 24.3V40.3 M470.4 999.6V969.6 M470.4 24.3V54.3 M594.75 999.6V983.6 M594.75 24.3V40.3 M719.1 999.6V969.6 M719.1 24.3V54.3 M843.45 999.6V983.6 M843.45 24.3V40.3 M967.8 999.6V969.6 M967.8 24.3V54.3 M1092.15 999.6V983.6 M1092.15 24.3V40.3 M1216.5 999.6V969.6 M1216.5 24.3V54.3 M1340.85 999.6V983.6 M1340.85 24.3V40.3 M221.7 945.42H237.7 M1465.2 945.42H1449.2 M221.7 891.23H237.7 M1465.2 891.23H1449.2 M221.7 837.05H237.7 M1465.2 837.05H1449.2 M221.7 782.87H237.7 M1465.2 782.87H1449.2 M221.7 728.68H249.7 M1465.2 728.68H1437.2 M221.7 674.5H237.7 M1465.2 674.5H1449.2 M221.7 620.32H237.7 M1465.2 620.32H1449.2 M221.7 566.13H237.7 M1465.2 566.13H1449.2 M221.7 511.95H237.7 M1465.2 511.95H1449.2 M221.7 457.77H249.7 M1465.2 457.77H1437.2 M221.7 403.58H237.7 M1465.2 403.58H1449.2 M221.7 349.4H237.7 M1465.2 349.4H1449.2 M221.7 295.22H237.7 M1465.2 295.22H1449.2 M221.7 241.03H237.7 M1465.2 241.03H1449.2 M221.7 186.85H249.7 M1465.2 186.85H1437.2 M221.7 132.67H237.7 M1465.2 132.67H1449.2 M221.7 78.48H237.7 M1465.2 78.48H1449.2" stroke="#1e1e1e" stroke-width="3" fill="none"/>
<line x1="351" y1="629.5" x2="485" y2="629.5" stroke="#000" stroke-width="5.5"/>
<line x1="357" y1="731" x2="491" y2="731" stroke="#ff0000" stroke-width="5.5"/>
<text transform="translate(96.75,201.8) scale(0.8926,1)" font-family="'Liberation Serif', 'DejaVu Serif', serif" font-size="87" stroke="#fff" stroke-width="0.6" fill="#000">150</text>
<text transform="translate(96.75,474.5) scale(0.8926,1)" font-family="'Liberation Serif', 'DejaVu Serif', serif" font-size="87" stroke="#fff" stroke-width="0.6" fill="#000">100</text>
<text transform="translate(132.32,745) scale(0.9367,1)" font-family="'Liberation Serif', 'DejaVu Serif', serif" font-size="87" stroke="#fff" stroke-width="0.6" fill="#000">50</text>
<text transform="translate(171.38,1014) scale(0.8737,1)" font-family="'Liberation Serif', 'DejaVu Serif', serif" font-size="87" stroke="#fff" stroke-width="0.6" fill="#000">0</text>
<text transform="translate(159.88,1066.2) scale(0.8731,1)" font-family="'Liberation Serif', 'DejaVu Serif', serif" font-size="87" stroke="#fff" stroke-width="0.6" fill="#000">-0.1</text>
<text transform="translate(450.74,1066.2) scale(0.9211,1)" font-family="'Liberation Serif', 'DejaVu Serif', serif" font-size="87" stroke="#fff" stroke-width="0.6" fill="#000">0</text>
<text transform="translate(669.24,1066.2) scale(0.8535,1)" font-family="'Liberation Serif', 'DejaVu Serif', serif" font-size="87" stroke="#fff" stroke-width="0.6" fill="#000">0.1</text>
<text transform="translate(919.17,1066.2) scale(0.8782,1)" font-family="'Liberation Serif', 'DejaVu Serif', serif" font-size="87" stroke="#fff" stroke-width="0.6" fill="#000">0.2</text>
<text transform="translate(1165.7,1066.2) scale(0.8660,1)" font-family="'Liberation Serif', 'DejaVu Serif', serif" font-size="87" stroke="#fff" stroke-width="0.6" fill="#000">0.3</text>
<text transform="translate(1416.13,1066.2) scale(0.8571,1)" font-family="'Liberation Serif', 'DejaVu Serif', serif" font-size="87" stroke="#fff" stroke-width="0.6" fill="#000">0.4</text>
<text transform="translate(572.75,650.2) scale(1.0500,1)" font-family="'Liberation Serif', 'DejaVu Serif', serif" font-size="59.5" stroke="#fff" stroke-width="0.6" fill="#000">The</text>
<text transform="translate(683.33,650.2) scale(1.0853,1)" font-family="'Liberation Serif', 'DejaVu Serif', serif" font-size="59.5" stroke="#fff" stroke-width="0.6" fill="#000">output</text>
<text transform="translate(868.43,650.2) scale(0.9854,1)" font-family="'Liberation Serif', 'DejaVu Serif', serif" font-size="59.5" stroke="#fff" stroke-width="0.6" fill="#000">of</text>
<text transform="translate(935.4,650.2) scale(1.0712,1)" font-family="'Liberation Serif', 'DejaVu Serif', serif" font-size="59.5" stroke="#fff" stroke-width="0.6" fill="#000">tuned</text>
<text transform="translate(1097.5,650.2) scale(1.0186,1)" font-family="'Liberation Serif', 'DejaVu Serif', serif" font-size="59.5" stroke="#fff" stroke-width="0.6" fill="#000">y(k)</text>
<text transform="translate(584.48,743.3) scale(1.0201,1)" font-family="'Liberation Serif', 'DejaVu Serif', serif" font-size="59.5" stroke="#fff" stroke-width="0.6" fill="#000">Reference</text>
<text transform="translate(850.13,743.3) scale(1.0735,1)" font-family="'Liberation Serif', 'DejaVu Serif', serif" font-size="59.5" stroke="#fff" stroke-width="0.6" fill="#000">model</text>
<text transform="translate(1023.58,743.3) scale(1.1093,1)" font-family="'Liberation Serif', 'DejaVu Serif', serif" font-size="59.5" stroke="#fff" stroke-width="0.6" fill="#000">data</text>
<text transform="translate(1148.28,743.3) scale(0.9843,1)" font-family="'Liberation Serif', 'DejaVu Serif', serif" font-size="59.5" font-style="italic" stroke="#fff" stroke-width="0.6" fill="#000">M(k)</text>
<text transform="translate(735.64,835.2) scale(1.0316,1)" font-family="'Liberation Serif', 'DejaVu Serif', serif" font-size="59.5" stroke="#fff" stroke-width="0.6" fill="#000">(Ideal</text>
<text transform="translate(894.95,835.2) scale(1.0493,1)" font-family="'Liberation Serif', 'DejaVu Serif', serif" font-size="59.5" stroke="#fff" stroke-width="0.6" fill="#000">response)</text>
<text transform="translate(752.65,1174.2) scale(0.8469,1)" font-family="'Liberation Serif', 'DejaVu Serif', serif" font-size="59.0" stroke="#fff" stroke-width="0.6" fill="#000">Time (s)</text>
<text transform="translate(62.6,681) rotate(-90) scale(0.8736,1)" x="-1.27 34.02 71.09 100.51 135.22 145.22 188.15 211.6 266.08 285.54 320.09 335.87 371.44" y="0" font-family="'Liberation Sans', 'DejaVu Sans', sans-serif" font-size="55.0" stroke="#fff" stroke-width="1.0" fill="#222">Speed (min-1)</text>
</g>
</svg>
</body></html>
